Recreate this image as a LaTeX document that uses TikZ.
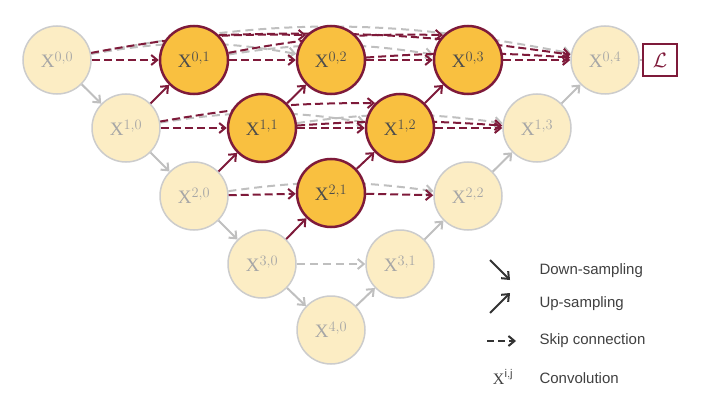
\documentclass[tikz,border=0pt]{standalone}
\usepackage{fontspec}
\setmainfont{Liberation Sans}
\newfontfamily\serifx{Liberation Serif}
\usetikzlibrary{arrows.meta}
\pgfdeclarelayer{bg}
\pgfsetlayers{bg,main}
\definecolor{paleF}{HTML}{FCEDC4}
\definecolor{actF}{HTML}{F9C040}
\definecolor{dred}{HTML}{7E1A3A}
\begin{document}
\begin{tikzpicture}[x=1pt,y=-1pt,
  pale/.style={circle,minimum size=68pt,inner sep=0pt,fill=paleF,draw=black!20,line width=1.5pt,text=black!35,font=\serifx\fontsize{19}{19}\selectfont},
  act/.style={circle,minimum size=68pt,inner sep=0pt,fill=actF,draw=dred,line width=2.5pt,text=black!70,font=\serifx\fontsize{19}{19}\selectfont},
  gr/.style={-{Straight Barb[length=6pt,width=10pt]},draw=black!25,line width=2pt},
  rd/.style={-{Straight Barb[length=6pt,width=10pt]},draw=dred,line width=2pt},
  grd/.style={gr,dash pattern=on 8pt off 5pt},
  rdd/.style={rd,dash pattern=on 8pt off 4pt},
  leg/.style={anchor=west,font=\fontsize{15}{15}\selectfont,text=black!75}]
\useasboundingbox (0,0) rectangle (720,401);
\node[pale] (x00) at (57,60) {X$^{0,0}$};
\node[act] (x01) at (194,60) {X$^{0,1}$};
\node[act] (x02) at (331,60) {X$^{0,2}$};
\node[act] (x03) at (468,60) {X$^{0,3}$};
\node[pale] (x04) at (605,60) {X$^{0,4}$};
\node[pale] (x10) at (126,128) {X$^{1,0}$};
\node[act] (x11) at (262,128) {X$^{1,1}$};
\node[act] (x12) at (400,128) {X$^{1,2}$};
\node[pale] (x13) at (537,128) {X$^{1,3}$};
\node[pale] (x20) at (194,196) {X$^{2,0}$};
\node[act] (x21) at (331,193) {X$^{2,1}$};
\node[pale] (x22) at (468,196) {X$^{2,2}$};
\node[pale] (x30) at (262,264) {X$^{3,0}$};
\node[pale] (x31) at (400,264) {X$^{3,1}$};
\node[pale] (x40) at (331,330) {X$^{4,0}$};
\node[draw=dred,line width=1.8pt,minimum width=34pt,minimum height=32pt,font=\fontsize{20}{20}\selectfont,text=dred] (L) at (660,60) {$\mathcal{L}$};
\begin{pgfonlayer}{bg}
\draw[draw=black!25,line width=2pt] (x04) -- (L);
\draw[grd] (x00) to[bend left=10] (x02);
\draw[grd] (x01) to[bend left=9] (x03);
\draw[grd] (x00) to[bend left=11] (x04);
\draw[grd] (x10) to[bend left=9] (x12);
\draw[grd] (x11) to[bend left=8] (x13);
\draw[grd] (x20) to[bend left=8] (x22);
\draw[rdd] (x00) to[bend left=6] (x02.north west);
\draw[rdd] (x01) to[bend left=6] (x03.north west);
\draw[rdd] (x02) to[bend left=4] (x04);
\draw[rdd] (x01.north east) to[bend left=5] (x04);
\draw[rdd] (x10) to[bend left=5] (x12.north west);
\draw[rdd] (x11) to[bend left=4] (x13);
\end{pgfonlayer}
\draw[gr] (x00) -- (x10); \draw[gr] (x10) -- (x20); \draw[gr] (x20) -- (x30); \draw[gr] (x30) -- (x40);
\draw[rd] (x10) -- (x01); \draw[rd] (x20) -- (x11); \draw[rd] (x11) -- (x02);
\draw[rd] (x30) -- (x21); \draw[rd] (x21) -- (x12); \draw[rd] (x12) -- (x03);
\draw[gr] (x40) -- (x31); \draw[gr] (x31) -- (x22); \draw[gr] (x22) -- (x13); \draw[gr] (x13) -- (x04);
\draw[grd] (x30) -- (x31);
\draw[rdd] (x00) -- (x01); \draw[rdd] (x01) -- (x02); \draw[rdd] (x02) -- (x03); \draw[rdd] (x03) -- (x04);
\draw[rdd] (x10) -- (x11); \draw[rdd] (x11) -- (x12); \draw[rdd] (x12) -- (x13);
\draw[rdd] (x20) -- (x21); \draw[rdd] (x21) -- (x22);
% legend
\coordinate (a1) at (490,260); \coordinate (a2) at (510,280);
\draw[-{Straight Barb[length=6pt,width=10pt]},line width=2pt,black!80] (a1) -- (a2);
\node[leg] (l1) at (536,271) {Down-sampling};
\coordinate (b1) at (490,313); \coordinate (b2) at (510,293);
\draw[-{Straight Barb[length=6pt,width=10pt]},line width=2pt,black!80] (b1) -- (b2);
\node[leg] (l2) at (536,304) {Up-sampling};
\coordinate (c1) at (487,341); \coordinate (c2) at (516,341);
\draw[-{Straight Barb[length=6pt,width=10pt]},dash pattern=on 7pt off 4pt,line width=2pt,black!80] (c1) -- (c2);
\node[leg] (l3) at (536,341) {Skip connection};
\node[font=\serifx\fontsize{16}{16}\selectfont,text=black!75] (l0) at (503,377) {X$^{\mathrm{i,j}}$};
\node[leg] (l4) at (536,378) {Convolution};
\end{tikzpicture}
\end{document}
